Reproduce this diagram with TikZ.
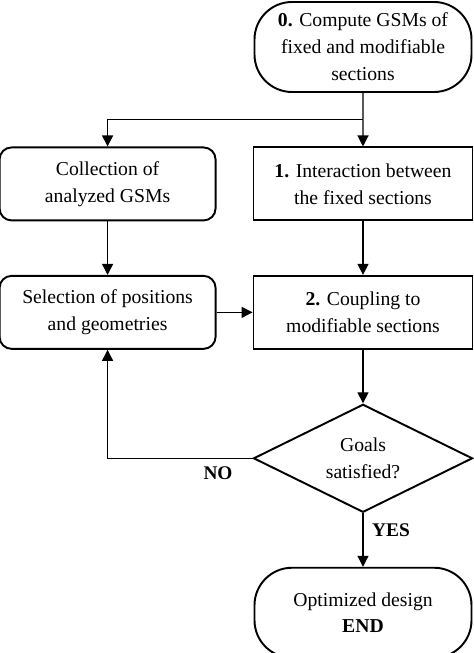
\documentclass[tikz,border=0pt]{standalone}
\usepackage{fontspec}
\setmainfont{Liberation Serif}
\usepackage{tikz}
\usetikzlibrary{shapes.geometric, arrows.meta, positioning, calc}
\tikzset{
  terminal/.style={
    rectangle, rounded corners=0.75cm,
    minimum width=4.34cm, minimum height=1.8cm,
    draw, line width=1.1pt, align=center, inner sep=0pt,
  },
  roundbox/.style={
    rectangle, rounded corners=0.24cm,
    minimum width=4.32cm, minimum height=1.46cm,
    draw, line width=1.1pt, align=center, inner sep=0pt,
  },
  process/.style={
    rectangle,
    minimum width=4.38cm, minimum height=1.46cm,
    draw, line width=1.1pt, align=center, inner sep=0pt,
  },
  decision/.style={
    diamond, aspect=2,
    minimum width=4.38cm, minimum height=2.16cm,
    draw, line width=1.1pt, align=center, inner sep=0pt,
  },
  arrow/.style={-{Triangle[length=2.2mm, width=2.2mm]}, line width=0.7pt},
  line/.style={line width=0.7pt},
  answer/.style={font=\fontsize{11}{15}\selectfont\bfseries},
}

\begin{document}
\begin{tikzpicture}[node distance=1.07cm and 0.72cm, every node/.style={font=\fontsize{11.2}{15.3}\selectfont}]
  \useasboundingbox (0,0) rectangle (9.48,-13.06);
  \node[terminal] (compute) at (7.26,-0.94) {\textbf{0.} Compute GSMs of\\fixed and modifiable\\sections};
  \node[process, below=of compute] (interaction) {\textbf{1.} Interaction between\\the fixed sections};
  \node[roundbox, left=of interaction] (collection) {Collection of\\analyzed GSMs};
  \node[roundbox, below=of collection] (selection) {Selection of positions\\and geometries};
  \node[process, below=of interaction] (coupling) {\textbf{2.} Coupling to\\modifiable sections};
  \node[decision, below=of coupling] (goals) {Goals\\satisfied?};
  \node[terminal, below=of goals] (optimized) {Optimized design\\\textbf{END}};
  \coordinate (split) at ($(compute.south)!0.5!(interaction.north)$);

  \draw[line] (compute) -- (split);
  \draw[arrow] (split) -- (interaction);
  \draw[arrow] (split) -| (collection);
  \draw[arrow] (collection) -- (selection);
  \draw[arrow] (interaction) -- (coupling);
  \draw[arrow] (selection) -- (coupling);
  \draw[arrow] (coupling) -- (goals);
  \draw[arrow] (goals.west) -| (selection.south);
  \draw[arrow] (goals) -- (optimized);
  \node[answer] (no) at (4.36,-9.46) {NO};
  \node[answer] (yes) at (7.82,-10.6) {YES};
\end{tikzpicture}
\end{document}
